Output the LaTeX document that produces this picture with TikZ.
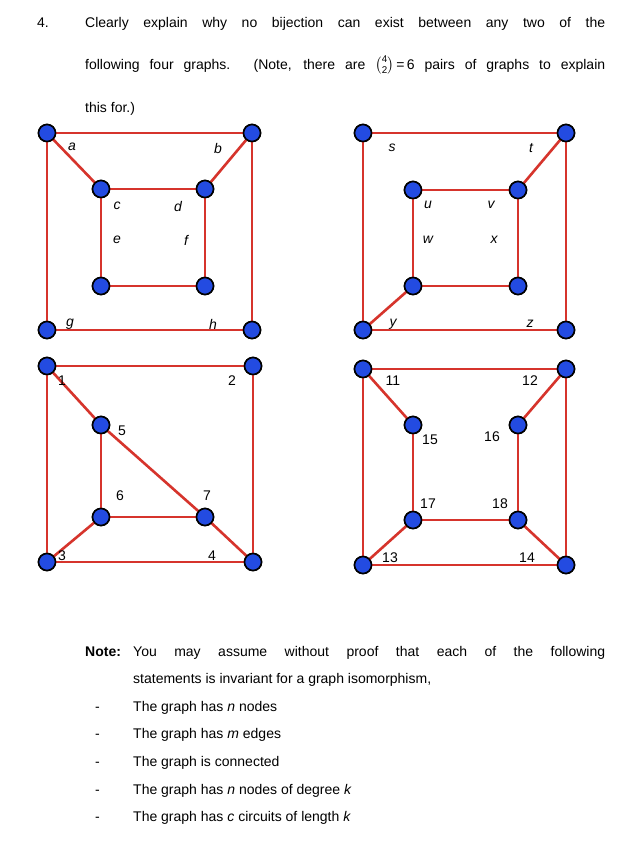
\documentclass[tikz,border=0pt]{standalone}
\usepackage{fontspec}
\usepackage{amsmath}
\setmainfont{Liberation Sans}
\definecolor{ered}{RGB}{214,52,44}
\definecolor{vblue}{RGB}{35,75,225}
\begin{document}
\begin{tikzpicture}[x=1pt,y=-1pt,
  v/.style={circle,fill=vblue,draw=black,line width=1.6pt,minimum size=17pt,inner sep=0pt},
  e/.style={draw=ered,line width=2.6pt},
  lab/.style={font=\fontsize{14}{16}\selectfont\itshape,inner sep=0pt},
  num/.style={font=\fontsize{14}{16}\selectfont,inner sep=0pt},
  txt/.style={font=\fontsize{14}{16}\selectfont,anchor=base west,inner sep=0pt}]
\useasboundingbox[fill=white] (0,0) rectangle (643,863);
% text
\node[txt] (n4) at (37,27) {4.};
\node[txt] (l1) at (85,27) {\makebox[520pt][s]{Clearly explain why no bijection can exist between any two of the}};
\node[txt] (l2) at (85,69) {\makebox[520pt][s]{following four graphs. (Note, there are $\binom{\text{4}}{\text{2}}$\,=\,6 pairs of graphs to explain}};
\node[txt] (l3) at (85,112) {this for.)};
% graph 1
\node[v] (a) at (47,133) {}; \node[v] (b) at (252,133) {};
\node[v] (c) at (101,189) {}; \node[v] (d) at (205,189) {};
\node[v] (ee) at (101,286) {}; \node[v] (f) at (205,286) {};
\node[v] (g) at (47,330) {}; \node[v] (h) at (252,330) {};
% graph 2
\node[v] (s) at (363,133) {}; \node[v] (t) at (566,133) {};
\node[v] (u) at (413,190) {}; \node[v] (vv) at (518,190) {};
\node[v] (w) at (413,286) {}; \node[v] (xx) at (518,286) {};
\node[v] (yy) at (363,330) {}; \node[v] (z) at (566,330) {};
% graph 3
\node[v] (n1) at (47,366) {}; \node[v] (n2) at (253,366) {};
\node[v] (n5) at (101,425) {}; \node[v] (n6) at (101,517) {};
\node[v] (n7) at (205,517) {}; \node[v] (n3) at (47,562) {};
\node[v] (n4v) at (253,562) {};
% graph 4
\node[v] (m11) at (363,369) {}; \node[v] (m12) at (566,369) {};
\node[v] (m15) at (413,425) {}; \node[v] (m16) at (518,425) {};
\node[v] (m17) at (413,520) {}; \node[v] (m18) at (518,520) {};
\node[v] (m13) at (363,565) {}; \node[v] (m14) at (566,565) {};
% edges (drawn then nodes redrawn on top)
\foreach \p/\q in {a/b,a/g,b/h,g/h,a/c,b/d,c/d,c/ee,d/f,ee/f,
  s/t,s/yy,t/z,yy/z,t/vv,u/vv,u/w,vv/xx,w/xx,yy/w,
  n1/n2,n1/n3,n2/n4v,n3/n4v,n1/n5,n5/n7,n5/n6,n6/n7,n6/n3,n7/n4v,
  m11/m12,m11/m13,m12/m14,m13/m14,m11/m15,m12/m16,m15/m17,m16/m18,m17/m18,m13/m17,m14/m18}
  \draw[e] (\p.center) -- (\q.center);
\foreach \n in {a,b,c,d,ee,f,g,h,s,t,u,vv,w,xx,yy,z,n1,n2,n3,n4v,n5,n6,n7,m11,m12,m13,m14,m15,m16,m17,m18}
  \node[v] at (\n) {};
% labels
\node[lab] (la) at (72,147) {a}; \node[lab] (lb) at (218,148) {b};
\node[lab] (lc) at (117,206) {c}; \node[lab] (ld) at (178,206) {d};
\node[lab] (le) at (117,240) {e}; \node[lab] (lf) at (186,240) {f};
\node[lab] (lg) at (70,324) {g}; \node[lab] (lh) at (213,324) {h};
\node[lab] (ls) at (392,148) {s}; \node[lab] (lt) at (531,148) {t};
\node[lab] (lu) at (428,205) {u}; \node[lab] (lv) at (491,205) {v};
\node[lab] (lw) at (428,240) {w}; \node[lab] (lx) at (494,240) {x};
\node[lab] (ly) at (393,324) {y}; \node[lab] (lz) at (530,324) {z};
\node[num] at (62,381) {1}; \node[num] at (232,381) {2};
\node[num] at (122,431) {5}; \node[num] at (120,496) {6};
\node[num] at (207,496) {7}; \node[num] at (62,556) {3};
\node[num] at (212,556) {4};
\node[num] at (393,381) {11}; \node[num] at (530,381) {12};
\node[num] at (430,440) {15}; \node[num] at (492,437) {16};
\node[num] at (428,504) {17}; \node[num] at (500,504) {18};
\node[num] at (390,558) {13}; \node[num] at (527,558) {14};
% note
\node[txt] (note) at (85,656) {\textbf{Note:}};
\node[txt] (nl1) at (133,656) {\makebox[472pt][s]{You may assume without proof that each of the following}};
\node[txt] (nl2) at (133,683) {statements is invariant for a graph isomorphism,};
\foreach \yy/\t [count=\i] in {711/{The graph has \textit{n} nodes},738/{The graph has \textit{m} edges},766/{The graph is connected},794/{The graph has \textit{n} nodes of degree \textit{k}},821/{The graph has \textit{c} circuits of length \textit{k}}}{
  \node[txt] (d\i) at (95,\yy) {-};
  \node[txt] (s\i) at (133,\yy) {\t};}
\end{tikzpicture}
\end{document}
